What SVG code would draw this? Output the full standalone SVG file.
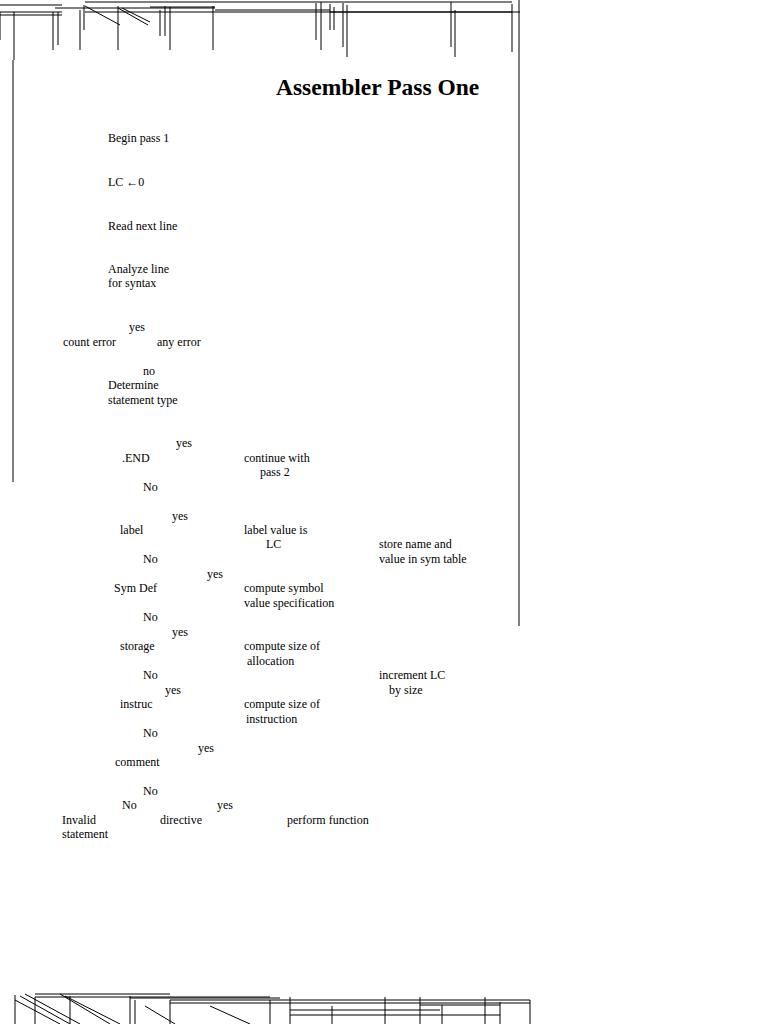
<svg xmlns="http://www.w3.org/2000/svg" width="768" height="1024" viewBox="0 0 768 1024">
<style>
text{font-family:"Liberation Serif",serif;font-size:12px;fill:#000}
.t{font-size:23.5px;font-weight:bold}
line,path{stroke:#000;stroke-width:1;fill:none}
</style>
<rect width="768" height="1024" fill="#fff"/>
<g id="frame">
<line x1="13" y1="60" x2="13" y2="482"/>
<line x1="519" y1="0" x2="519" y2="626"/>
<path d="M85 2H512M0 5H62M55 8H215M150 7H215M0 12H62M85 12H512M0 15H62M215 10H330M330 12H520M14 12V60M53 12V50M58 12V45M80 10V50M84 5V30M118 6V50M160 10V36M165 6V36M170 7V50M213 6V50M316 3V40M321 2V50M330 4V30M334 7V30M343 3V47M347 5V57M451 2V47M455 10V57M512 4V52M0 12V40M85 6L120 25M118 8L148 25M122 8L150 22"/>
<path d="M15 1000L60 1024M20 996L70 1024M25 994L80 1024M60 994L110 1024M65 996L120 1024M145 1006L175 1024M210 1006L250 1024M35 997H270M35 994H170M130 998H280M170 1000H530M170 1003H530M290 1010H440M35 997V1024M70 996V1024M130 996V1024M135 1000V1024M170 1000V1024M270 1000V1024M290 997V1024M332 1006V1024M385 997V1024M420 997V1024M442 1005V1024M485 997V1024M500 1002V1024M530 1000V1024M420 1005H500M290 1015H500M15 995V1024"/>
</g>
<g id="title"><text class="t" x="276" y="95">Assembler Pass One</text></g>
<g id="labels">
<text x="108" y="142">Begin pass 1</text>
<text x="108" y="186">LC ←0</text>
<text x="108" y="230">Read next line</text>
<text x="108" y="273">Analyze line</text>
<text x="108" y="287">for syntax</text>
<text x="129" y="331">yes</text>
<text x="63" y="346">count error</text>
<text x="157" y="346">any error</text>
<text x="143" y="375">no</text>
<text x="108" y="389">Determine</text>
<text x="108" y="404">statement type</text>
<text x="176" y="447">yes</text>
<text x="122" y="462">.END</text>
<text x="244" y="462">continue with</text>
<text x="260" y="476">pass 2</text>
<text x="143" y="491">No</text>
<text x="172" y="520">yes</text>
<text x="120" y="534">label</text>
<text x="244" y="534">label value is</text>
<text x="266" y="548">LC</text>
<text x="379" y="548">store name and</text>
<text x="379" y="563">value in sym table</text>
<text x="143" y="563">No</text>
<text x="207" y="578">yes</text>
<text x="114" y="592">Sym Def</text>
<text x="244" y="592">compute symbol</text>
<text x="244" y="607">value specification</text>
<text x="143" y="621">No</text>
<text x="172" y="636">yes</text>
<text x="120" y="650">storage</text>
<text x="244" y="650">compute size of</text>
<text x="247" y="665">allocation</text>
<text x="143" y="679">No</text>
<text x="379" y="679">increment LC</text>
<text x="165" y="694">yes</text>
<text x="389" y="694">by size</text>
<text x="120" y="708">instruc</text>
<text x="244" y="708">compute size of</text>
<text x="246" y="723">instruction</text>
<text x="143" y="737">No</text>
<text x="198" y="752">yes</text>
<text x="115" y="766">comment</text>
<text x="143" y="795">No</text>
<text x="122" y="809">No</text>
<text x="217" y="809">yes</text>
<text x="62" y="824">Invalid</text>
<text x="160" y="824">directive</text>
<text x="287" y="824">perform function</text>
<text x="62" y="838">statement</text>
</g>
</svg>
